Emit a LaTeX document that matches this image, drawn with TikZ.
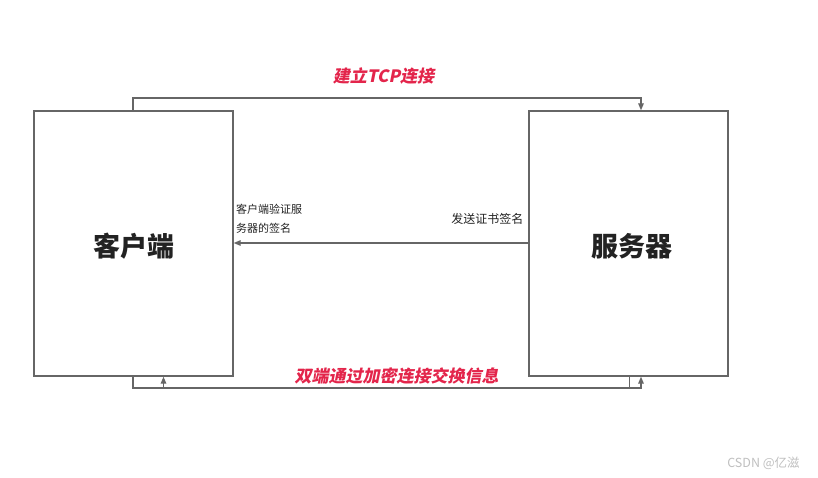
\documentclass[tikz,border=0pt]{standalone}
\usepackage{fontspec}
\newfontfamily\cjk{Noto Sans CJK SC}
\newfontfamily\cjksl[FakeSlant=0.2]{Noto Sans CJK SC}
\usetikzlibrary{arrows.meta}
\definecolor{linegray}{HTML}{666666}
\definecolor{txt}{HTML}{222222}
\definecolor{redlbl}{HTML}{E3254B}
\tikzset{
  box/.style={draw=linegray, line width=1.3pt, minimum width=199pt, minimum height=265pt, inner sep=0pt},
  conn/.style={draw=linegray, line width=1.3pt, -{Triangle[length=7pt,width=5.5pt]}},
  big/.style={font=\cjk\bfseries\fontsize{27}{30}\selectfont, text=txt},
  small/.style={font=\cjk\fontsize{11}{19}\selectfont, text=txt, inner sep=0pt, align=left},
  redt/.style={font=\cjksl\bfseries\fontsize{17}{20}\selectfont, text=redlbl, inner sep=0pt},
}
\begin{document}
\begin{tikzpicture}[x=1pt,y=-1pt]
\useasboundingbox (0,0) rectangle (818,478);
\node[box] (client) at (133.5,243.5) {};
\node[box] (server) at (628.5,243.5) {};
\node[big] (clientlbl) at (133.5,246) {客户端};
\node[big] (serverlbl) at (632,246) {服务器};
% top connector
\coordinate (t1) at (133,98);
\coordinate (t2) at (641,98);
\draw[conn] (client.north -| t1) -- (t1) -- (t2) -- (server.north -| t2);
\node[redt] (toplbl) at (383.5,76) {建立TCP连接};
% middle arrow
\coordinate (m) at (0,243);
\draw[conn] (server.west |- m) -- (client.east |- m);
\node[small, anchor=north west] (vlbl) at (236,203.5) {客户端验证服\\务器的签名};
\node[small, font=\cjk\fontsize{12}{14}\selectfont, anchor=east] (slbl) at (523.5,218.5) {发送证书签名};
% bottom connectors
\coordinate (b1) at (133,388);
\coordinate (b2) at (641,388);
\coordinate (b3) at (629.5,388);
\coordinate (b4) at (163.5,388);
\draw[conn] (client.south -| b1) -- (b1) -- (b2) -- (server.south -| b2);
\draw[conn] (server.south -| b3) -- (b3) -- (b4) -- (client.south -| b4);
\node[redt] (botlbl) at (396.5,376) {双端通过加密连接交换信息};
\node[font=\cjk\fontsize{12.5}{14}\selectfont, text=black!25] (wm) at (763.5,463) {CSDN @亿滋};
\end{tikzpicture}
\end{document}
